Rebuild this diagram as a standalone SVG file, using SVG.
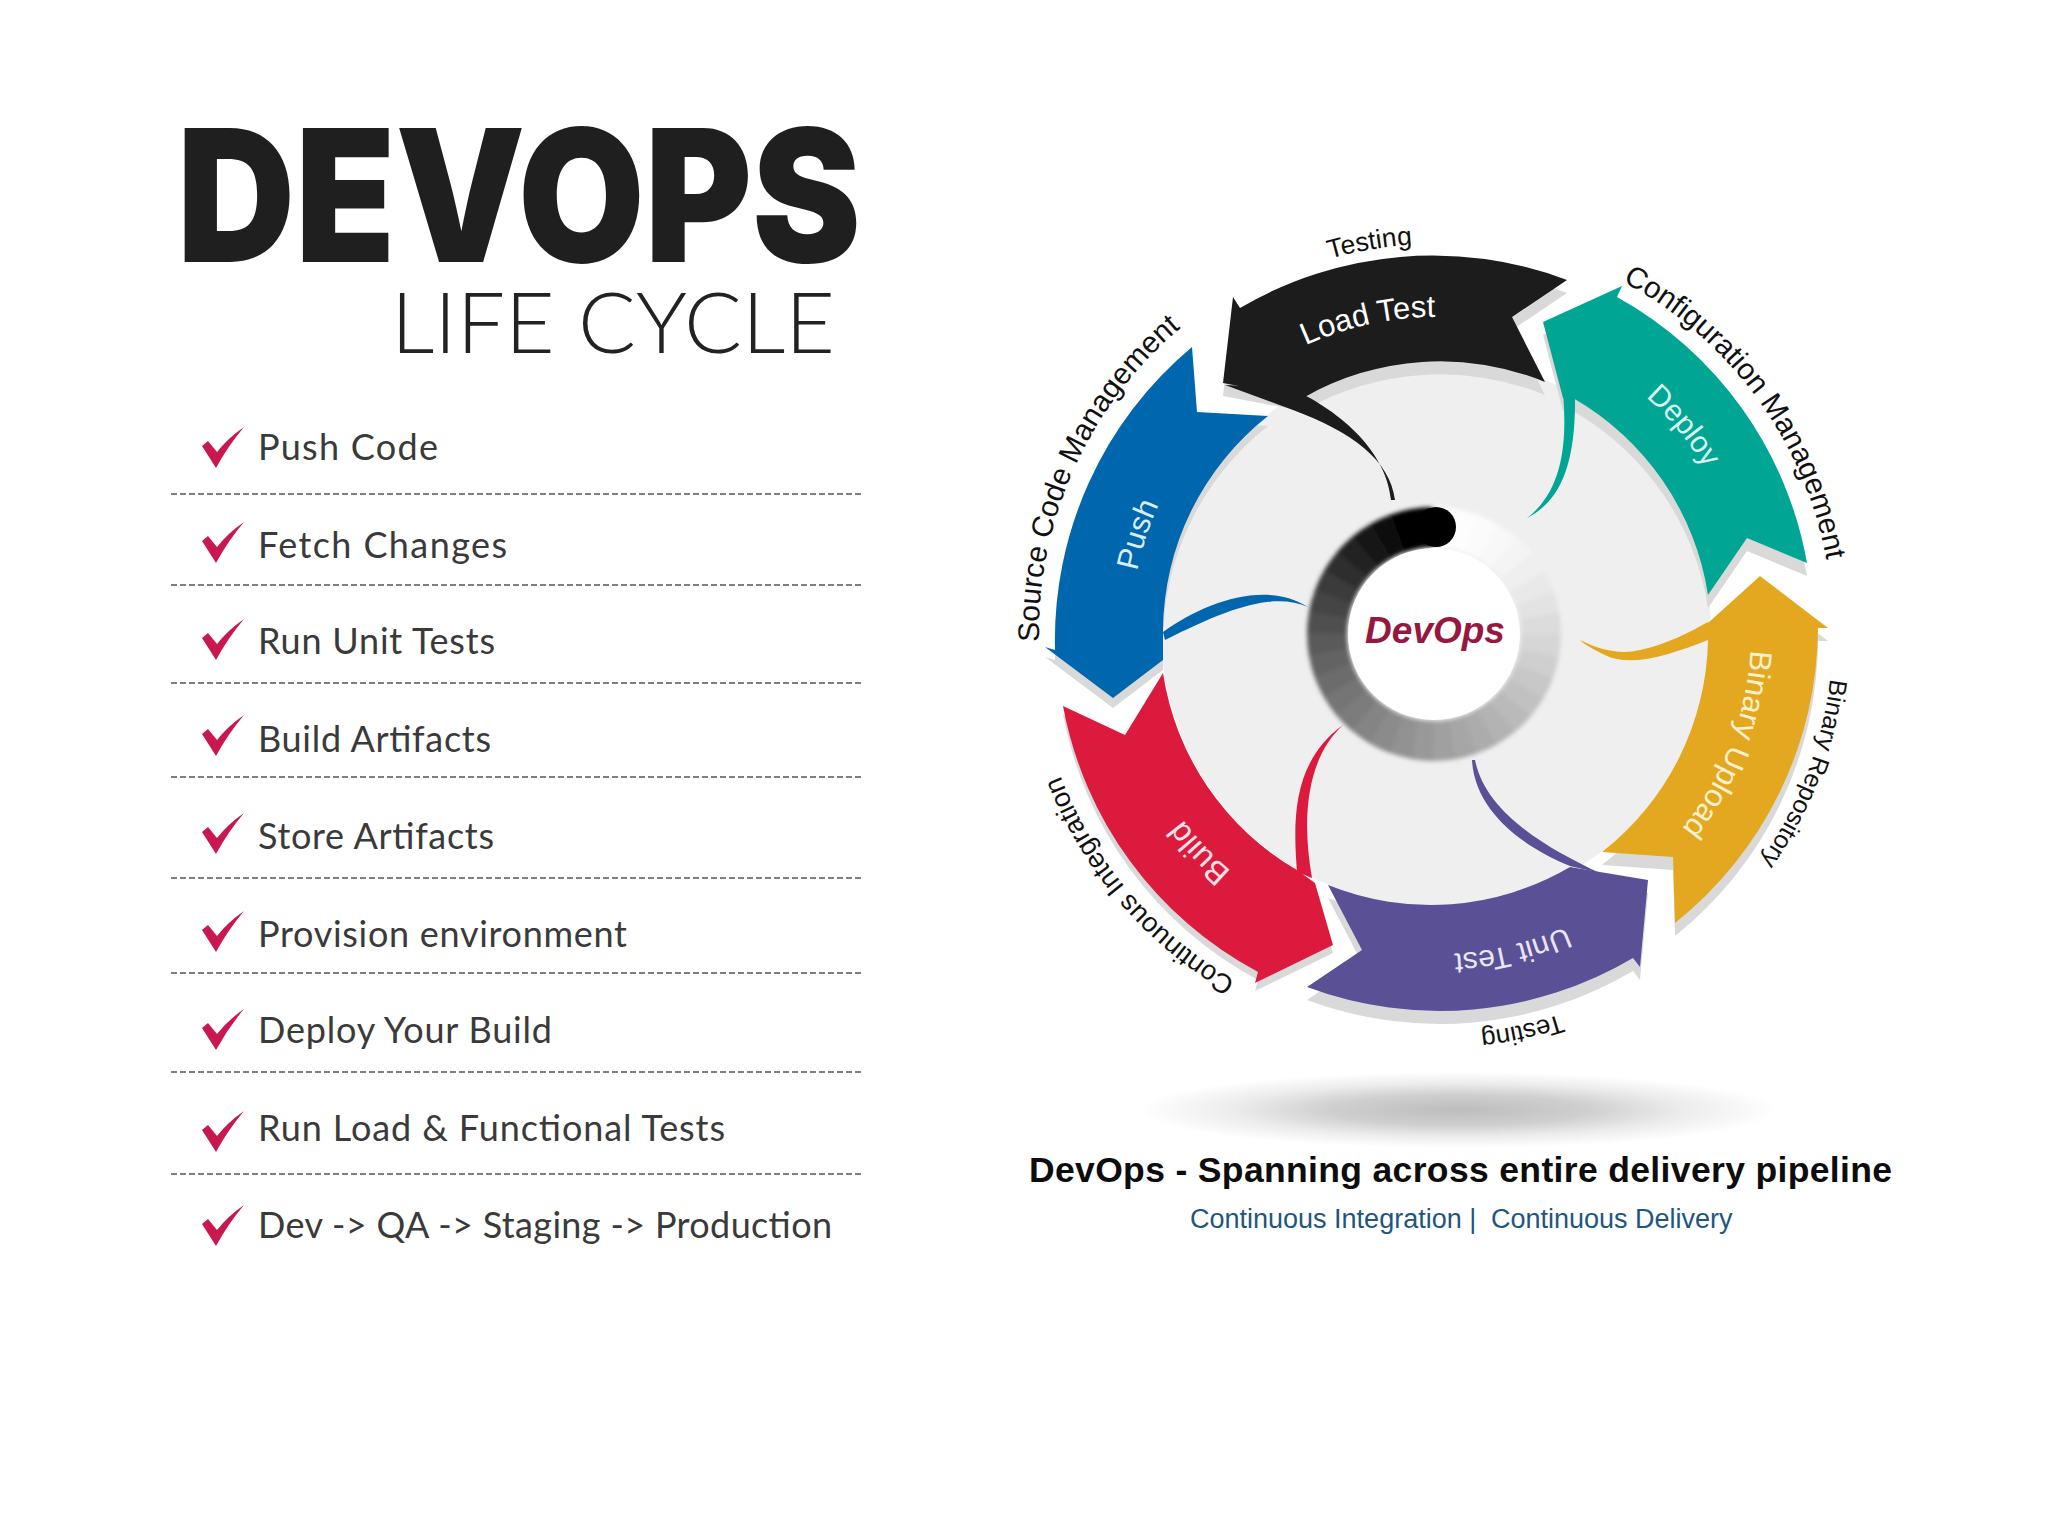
<svg xmlns="http://www.w3.org/2000/svg" width="2048" height="1536" viewBox="0 0 2048 1536">
<style>
text{font-family:"Liberation Sans",Arial,sans-serif}
.h1{font-family:Inter,Lato,"Liberation Sans",sans-serif;font-weight:900;font-size:184px;fill:#1f1f1f}
.h2{font-family:Lato,"Liberation Sans",sans-serif;font-weight:300;font-size:85px;fill:#222}
.it{font-family:Lato,"Liberation Sans",sans-serif;font-size:36px;fill:#3a3a3a}
.rule{stroke:#555;stroke-width:1.6;stroke-dasharray:6 3;fill:none}
.chk{fill:#c9184f}
.sh{fill:#d9d9da}
.seg{fill:none;stroke-width:40;stroke-dasharray:19.2 660}
.out{fill:#111}
</style>
<defs>
<radialGradient id="floor" cx="50%" cy="50%" r="50%"><stop offset="0" stop-color="#bdbdbd"/><stop offset=".4" stop-color="#cfcfcf"/><stop offset=".7" stop-color="#ececec"/><stop offset="1" stop-color="#fff"/></radialGradient>
<filter id="soft" x="-10%" y="-10%" width="120%" height="120%"><feGaussianBlur stdDeviation="2.2"/></filter>
<path id="check" d="M202 446L208 441L217 452Q228 438 244 427Q228 446 216 468Z"/>
<path id="b1" d="M1567 280L1512 317L1545 382A275 275 0 0 0 1303 398L1223 383L1233 297L1240 308A380 380 0 0 1 1567 280Z"/>
<path id="b2" d="M1622 286L1617 297A380 380 0 0 1 1807 563L1747 538L1708 595A275 275 0 0 0 1573 398L1563 398L1543 322Z"/>
<path id="b3" d="M1760 576L1828 628L1818 628A380 380 0 0 1 1675 923L1673 857L1602 852A275 275 0 0 0 1708 640L1708 623Z"/>
<path id="b4" d="M1648 880L1640 967L1633 958A380 380 0 0 1 1307 987L1362 950L1328 885A275 275 0 0 0 1570 867Z"/>
<path id="b5" d="M1063 706L1125 735L1163 673A275 275 0 0 0 1297 870L1315 883L1333 945L1255 983L1258 972A380 380 0 0 1 1063 706Z"/>
<path id="b6" d="M1192 347L1197 412L1268 416A275 275 0 0 0 1163 630L1163 660L1113 698L1045 647L1055 650A382 382 0 0 1 1192 347Z"/>
<path id="r305" d="M1436 937A305 305 0 1 1 1436 327A305 305 0 1 1 1436 937Z"/>
<path id="r315" d="M1436 947A315 315 0 1 1 1436 317A315 315 0 1 1 1436 947Z"/>
<path id="r322" d="M1436 954A322 322 0 1 1 1436 310A322 322 0 1 1 1436 954Z"/>
<path id="r388" d="M1436 1020A388 388 0 1 1 1436 244A388 388 0 1 1 1436 1020Z"/>
<path id="r397" d="M1436 1029A397 397 0 1 1 1436 235A397 397 0 1 1 1436 1029Z"/>
<path id="r402" d="M1436 1034A402 402 0 1 1 1436 230A402 402 0 1 1 1436 1034Z"/>
</defs>
<rect width="2048" height="1536" fill="#fff"/>

<g id="title">
<text class="h1" x="177" y="262" textLength="684" lengthAdjust="spacingAndGlyphs">DEVOPS</text>
<text class="h2" x="391" y="353" textLength="444" lengthAdjust="spacingAndGlyphs">LIFE CYCLE</text>
</g>

<g id="checklist">
<g id="item1"><use href="#check" class="chk"/><text class="it" x="258" y="460" textLength="180">Push Code</text></g>
<line class="rule" x1="171" y1="494" x2="862" y2="494"/>
<g id="item2"><use href="#check" class="chk" y="95"/><text class="it" x="258" y="558" textLength="249">Fetch Changes</text></g>
<line class="rule" x1="171" y1="585" x2="862" y2="585"/>
<g id="item3"><use href="#check" class="chk" y="192"/><text class="it" x="258" y="654" textLength="237">Run Unit Tests</text></g>
<line class="rule" x1="171" y1="683" x2="862" y2="683"/>
<g id="item4"><use href="#check" class="chk" y="288"/><text class="it" x="258" y="752" textLength="233">Build Artifacts</text></g>
<line class="rule" x1="171" y1="777" x2="862" y2="777"/>
<g id="item5"><use href="#check" class="chk" y="386"/><text class="it" x="258" y="849" textLength="236">Store Artifacts</text></g>
<line class="rule" x1="171" y1="878" x2="862" y2="878"/>
<g id="item6"><use href="#check" class="chk" y="484"/><text class="it" x="258" y="947" textLength="369">Provision environment</text></g>
<line class="rule" x1="171" y1="973" x2="862" y2="973"/>
<g id="item7"><use href="#check" class="chk" y="582"/><text class="it" x="258" y="1043" textLength="294">Deploy Your Build</text></g>
<line class="rule" x1="171" y1="1072" x2="862" y2="1072"/>
<g id="item8"><use href="#check" class="chk" y="684"/><text class="it" x="258" y="1141" textLength="467">Run Load &amp; Functional Tests</text></g>
<line class="rule" x1="171" y1="1174" x2="862" y2="1174"/>
<g id="item9"><use href="#check" class="chk" y="778"/><text class="it" x="258" y="1238" textLength="574">Dev -&gt; QA -&gt; Staging -&gt; Production</text></g>
</g>

<circle id="disc" cx="1436" cy="632" r="275" fill="#efeff0"/>

<g id="hub">
<g transform="translate(1434 634)">
<g filter="url(#soft)">
<circle class="seg" r="107" stroke="#000" transform="rotate(-100)"/><circle class="seg" r="107" stroke="#050505" transform="rotate(-110)"/><circle class="seg" r="107" stroke="#0d0d0d" transform="rotate(-120)"/><circle class="seg" r="107" stroke="#181818" transform="rotate(-130)"/><circle class="seg" r="107" stroke="#242424" transform="rotate(-140)"/><circle class="seg" r="107" stroke="#2f2f2f" transform="rotate(-150)"/>
<circle class="seg" r="107" stroke="#3a3a3a" transform="rotate(-160)"/><circle class="seg" r="107" stroke="#454545" transform="rotate(-170)"/><circle class="seg" r="107" stroke="#505050" transform="rotate(-180)"/><circle class="seg" r="107" stroke="#5a5a5a" transform="rotate(-190)"/><circle class="seg" r="107" stroke="#636363" transform="rotate(-200)"/><circle class="seg" r="107" stroke="#6c6c6c" transform="rotate(-210)"/>
<circle class="seg" r="107" stroke="#747474" transform="rotate(-220)"/><circle class="seg" r="107" stroke="#7c7c7c" transform="rotate(-230)"/><circle class="seg" r="107" stroke="#848484" transform="rotate(-240)"/><circle class="seg" r="107" stroke="#8b8b8b" transform="rotate(-250)"/><circle class="seg" r="107" stroke="#929292" transform="rotate(-260)"/><circle class="seg" r="107" stroke="#999" transform="rotate(-270)"/>
<circle class="seg" r="107" stroke="#a0a0a0" transform="rotate(-280)"/><circle class="seg" r="107" stroke="#a6a6a6" transform="rotate(-290)"/><circle class="seg" r="107" stroke="#acacac" transform="rotate(-300)"/><circle class="seg" r="107" stroke="#b3b3b3" transform="rotate(-310)"/><circle class="seg" r="107" stroke="#bababa" transform="rotate(-320)"/><circle class="seg" r="107" stroke="#c1c1c1" transform="rotate(-330)"/>
<circle class="seg" r="107" stroke="#c8c8c8" transform="rotate(-340)"/><circle class="seg" r="107" stroke="#cfcfcf" transform="rotate(-350)"/><circle class="seg" r="107" stroke="#d6d6d6" transform="rotate(-360)"/><circle class="seg" r="107" stroke="#dcdcdc" transform="rotate(-370)"/><circle class="seg" r="107" stroke="#e3e3e3" transform="rotate(-380)"/><circle class="seg" r="107" stroke="#e9e9e9" transform="rotate(-390)"/>
<circle class="seg" r="107" stroke="#efefef" transform="rotate(-400)"/><circle class="seg" r="107" stroke="#f4f4f4" transform="rotate(-410)"/><circle class="seg" r="107" stroke="#f8f8f8" transform="rotate(-420)"/><circle class="seg" r="107" stroke="#fbfbfb" transform="rotate(-430)"/><circle class="seg" r="107" stroke="#fdfdfd" transform="rotate(-440)"/><circle class="seg" r="107" stroke="#fff" transform="rotate(-450)"/>
</g>
<circle cx="2" cy="-107" r="20" fill="#000"/>
<circle r="86" fill="#fff"/>
</g>
<text x="1435" y="643" text-anchor="middle" font-size="37" font-weight="700" font-style="italic" fill="#96183e">DevOps</text>
</g>

<g id="node-load"><use href="#b1" class="sh" y="13"/><use href="#b1" fill="#1c1c1c"/>
<text fill="#fff" transform="rotate(-12.3 1436 632)" style="font-size:31px"><textPath href="#r315" startOffset="50%" text-anchor="middle">Load Test</textPath></text>
<text class="out" style="font-size:26.5px" transform="rotate(-9.7 1436 632)"><textPath href="#r388" startOffset="50%" text-anchor="middle">Testing</textPath></text></g>

<g id="node-deploy"><use href="#b2" class="sh" y="13"/><use href="#b2" fill="#00a594"/>
<text style="font-size:30px" fill="#d8f5f0" transform="rotate(50.2 1436 632)"><textPath href="#r315" startOffset="50%" text-anchor="middle">Deploy</textPath></text>
<text class="out" style="font-size:29.6px" transform="rotate(53.8 1436 632)"><textPath href="#r397" startOffset="50%" text-anchor="middle">Configuration Management</textPath></text></g>

<g id="node-binary"><use href="#b3" class="sh" y="13"/><use href="#b3" fill="#e3a820"/>
<text style="font-size:31px" fill="#fbf0cf" transform="rotate(111 1436 632)"><textPath href="#r315" startOffset="50%" text-anchor="middle">Binary Upload</textPath></text>
<text class="out" style="font-size:25px" transform="rotate(111 1436 632)"><textPath href="#r397" startOffset="50%" text-anchor="middle">Binary Repository</textPath></text></g>

<g id="node-unit"><use href="#b4" class="sh" y="13"/><use href="#b4" fill="#5a5096"/>
<text style="font-size:30px" fill="#e8e6f4" transform="rotate(166.5 1436 632)"><textPath href="#r322" startOffset="50%" text-anchor="middle">Unit Test</textPath></text>
<text class="out" style="font-size:26px" transform="rotate(167.8 1436 632)"><textPath href="#r402" startOffset="50%" text-anchor="middle">Testing</textPath></text></g>

<g id="node-build"><use href="#b5" class="sh" y="8"/><use href="#b5" fill="#dc1a3e"/>
<text style="font-size:32px" fill="#fde2e6" transform="rotate(227 1436 632)"><textPath href="#r315" startOffset="50%" text-anchor="middle">Build</textPath></text>
<text class="out" style="font-size:27.3px" transform="rotate(229.5 1436 632)"><textPath href="#r402" startOffset="50%" text-anchor="middle">Continuous Integration</textPath></text></g>

<g id="node-push"><use href="#b6" class="sh" y="10"/><use href="#b6" fill="#0066ad"/>
<text style="font-size:31px" fill="#d8edf9" transform="rotate(-71.9 1436 632)"><textPath href="#r305" startOffset="50%" text-anchor="middle">Push</textPath></text>
<text class="out" style="font-size:29.8px" transform="rotate(-65.7 1436 632)"><textPath href="#r397" startOffset="50%" text-anchor="middle">Source Code Management</textPath></text></g>

<g id="connectors">
<path fill="#1c1c1c" d="M1290 388C1335 408 1386 448 1391 500L1395 500C1390 460 1352 432 1293 410L1225 385Z"/>
<path fill="#00a594" d="M1563 392C1567 440 1564 490 1527 518C1558 502 1576 470 1575 395Z"/>
<path fill="#e3a820" d="M1708 622L1708 640C1670 655 1630 668 1605 655C1595 650 1585 645 1580 640C1600 650 1620 655 1640 650C1665 645 1690 632 1708 622Z"/>
<path fill="#5a5096" d="M1570 866C1530 850 1475 815 1472 760L1475 760C1485 810 1540 845 1600 873Z"/>
<path fill="#dc1a3e" d="M1297 872C1293 820 1292 762 1343 725C1310 755 1300 810 1312 878Z"/>
<path fill="#0066ad" d="M1163 632C1205 602 1265 580 1308 607C1275 592 1230 607 1165 640Z"/>
</g>

<ellipse id="floor-shadow" cx="1458" cy="1110" rx="320" ry="38" fill="url(#floor)"/>
<g id="caption">
<text x="1029" y="1182" font-size="35.5" font-weight="700" fill="#0d0d0d" textLength="863">DevOps - Spanning across entire delivery pipeline</text>
<text y="1228" font-size="27" fill="#1f5680"><tspan x="1190">Continuous Integration |</tspan><tspan x="1491">Continuous Delivery</tspan></text>
</g>
</svg>
